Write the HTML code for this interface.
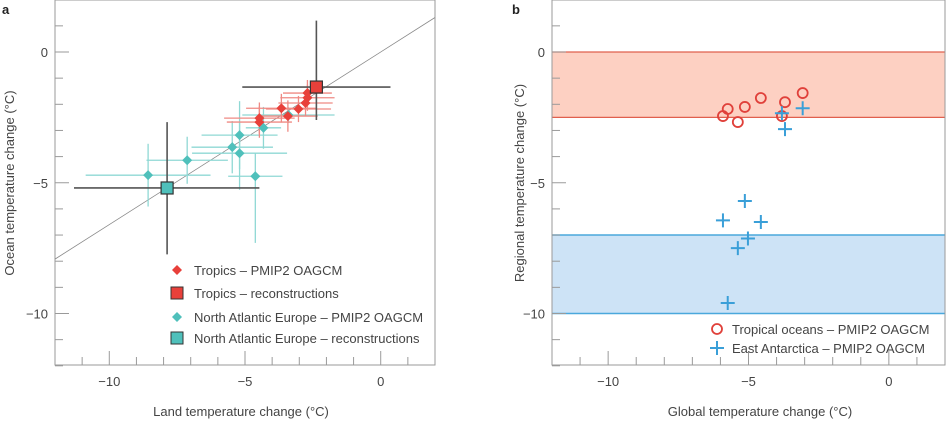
<!DOCTYPE html>
<html><head><meta charset="utf-8"><style>
html,body{margin:0;padding:0;background:#fff;}
svg{display:block;font-family:"Liberation Sans",sans-serif;}
</style></head><body>
<svg id="s" width="946" height="422" viewBox="0 0 946 422">
</svg>
<script>
// Panel a data
const tropX=[-4.47,-4.47,-3.66,-3.03,-2.77,-2.7,-2.7,-3.42];
const tropY=[-2.53,-2.68,-2.15,-2.18,-1.95,-1.75,-1.57,-2.45];
const tropXErr=[1.3,1.2,1.3,1.2,1.0,1.0,0.9,1.1];
const tropYErr=[0.6,0.6,0.55,0.5,0.5,0.5,0.5,0.6];
const naeX=[-3.4,-4.32,-5.2,-5.47,-5.2,-4.62,-7.13,-8.57];
const naeY=[-2.41,-2.9,-3.18,-3.64,-3.87,-4.75,-4.14,-4.71];
const naeXErr=[1.7,0.65,1.4,1.5,1.75,1.0,1.5,2.3];
const naeYUp=[0.3,0.8,1.3,1.0,1.2,0.9,0.9,1.2];
const naeYDn=[0.3,0.8,1.3,1.0,1.4,2.55,0.9,1.2];
const recTrop={x:-2.37,y:-1.34,xlo:-5.1,xhi:0.36,ylo:-2.6,yhi:1.2};
const recNae={x:-7.87,y:-5.2,xlo:-11.3,xhi:-4.47,ylo:-7.74,yhi:-2.68};
const slope=0.66;
// Panel b data
const circX=[-5.91,-5.74,-5.38,-5.13,-4.56,-3.7,-3.81,-3.07];
const circY=[-2.45,-2.18,-2.68,-2.1,-1.76,-1.92,-2.45,-1.57];
const crossX=[-3.81,-3.07,-3.7,-5.91,-5.13,-4.56,-5.02,-5.38,-5.74];
const crossY=[-2.34,-2.15,-2.95,-6.44,-5.7,-6.5,-7.13,-7.5,-9.6];
const redBand=[0,-2.5];
const blueBand=[-7,-10];
const xTicks=[-10,-5,0];
const yTicks=[0,-5,-10];

const S=document.getElementById('s');
const NS='http://www.w3.org/2000/svg';
function mk(t,a,parent){const e=document.createElementNS(NS,t);for(const k in a)e.setAttribute(k,a[k]);(parent||S).appendChild(e);return e;}

function panel(L,R,name){
  const ax={xs:v=>L+(v+12)/14*(R-L),ys:v=>52-v*26.15};
  const g=mk('g',{});
  
  
  ax.g=g;return ax;
}
function frame(ax,L,R,name){
  const g=mk('g',{},ax.g);
  
  
  mk('rect',{x:L,y:0,width:R-L,height:365,fill:'none',stroke:'#9a9a9a','stroke-width':1},g);
  for(let v=-12;v<=2;v++){const x=ax.xs(v);const len=v%5===0?14:8;
    mk('line',{x1:x,y1:365,x2:x,y2:365-len,stroke:'#9a9a9a'},g);}
  for(let v=-12;v<=2;v++){const y=ax.ys(v);const len=v%5===0?14:8;
    mk('line',{x1:L,y1:y,x2:L+len,y2:y,stroke:'#9a9a9a'},g);}
  xTicks.forEach(v=>{const t=mk('text',{x:ax.xs(v),y:386,'text-anchor':'middle','font-size':13,fill:'#444'},g);t.textContent=v===0?'0':'\u2212'+Math.abs(v);
    });
  yTicks.forEach(v=>{const t=mk('text',{x:L-7,y:ax.ys(v)+5,'text-anchor':'end','font-size':13,fill:'#444'},g);t.textContent=v===0?'0':'\u2212'+Math.abs(v);
    });
}

// ---------- Panel a ----------
const A=panel(55,435,'panel-a');
frame(A,55,435,'panel-a');
mk('line',{x1:A.xs(-12),y1:A.ys(-12*slope),x2:A.xs(2),y2:A.ys(2*slope),stroke:'#888','stroke-width':0.8},A.g);
naeX.forEach((x,i)=>{
  const c='#8fd8d4';
  mk('line',{x1:A.xs(x-naeXErr[i]),y1:A.ys(naeY[i]),x2:A.xs(x+naeXErr[i]),y2:A.ys(naeY[i]),stroke:c,'stroke-width':1.3},A.g);
  mk('line',{x1:A.xs(x),y1:A.ys(naeY[i]+naeYUp[i]),x2:A.xs(x),y2:A.ys(naeY[i]-naeYDn[i]),stroke:c,'stroke-width':1.3},A.g);
});
tropX.forEach((x,i)=>{
  const c='#ef8a84';
  mk('line',{x1:A.xs(x-tropXErr[i]),y1:A.ys(tropY[i]),x2:A.xs(x+tropXErr[i]),y2:A.ys(tropY[i]),stroke:c,'stroke-width':1.3},A.g);
  mk('line',{x1:A.xs(x),y1:A.ys(tropY[i]+tropYErr[i]),x2:A.xs(x),y2:A.ys(tropY[i]-tropYErr[i]),stroke:c,'stroke-width':1.3},A.g);
});
function diamond(x,y,c,g){const d=mk('path',{d:`M${x},${y-5}L${x+5},${y}L${x},${y+5}L${x-5},${y}Z`,fill:c},g);return d;}
naeX.forEach((x,i)=>{const d=diamond(A.xs(x),A.ys(naeY[i]),'#4fc0bb',A.g);
  });
tropX.forEach((x,i)=>{const d=diamond(A.xs(x),A.ys(tropY[i]),'#e8403a',A.g);
  });
[[recNae,'#4fc0bb','nae-reconstruction'],[recTrop,'#e8403a','tropics-reconstruction']].forEach(([r,c,n])=>{
  mk('line',{x1:A.xs(r.xlo),y1:A.ys(r.y),x2:A.xs(r.xhi),y2:A.ys(r.y),stroke:'#555','stroke-width':1.6},A.g);
  mk('line',{x1:A.xs(r.x),y1:A.ys(r.yhi),x2:A.xs(r.x),y2:A.ys(r.ylo),stroke:'#555','stroke-width':1.6},A.g);
  const q=mk('rect',{x:A.xs(r.x)-6,y:A.ys(r.y)-6,width:12,height:12,fill:c,stroke:'#333','stroke-width':1.2},A.g);
  
});
// legend a
const legA=mk('g',{});

[['d','#e8403a','Tropics \u2013 PMIP2 OAGCM',270],['s','#e8403a','Tropics \u2013 reconstructions',293],['d','#4fc0bb','North Atlantic Europe \u2013 PMIP2 OAGCM',317],['s','#4fc0bb','North Atlantic Europe \u2013 reconstructions',338]].forEach(([m,c,t,y])=>{
  const it=mk('g',{},legA);
  
  if(m==='d')diamond(177,y,c,it);else mk('rect',{x:171,y:y-6,width:12,height:12,fill:c,stroke:'#333','stroke-width':1},it);
  const tx=mk('text',{x:194,y:y+5,'font-size':13,fill:'#444'},it);tx.textContent=t;
});

// ---------- Panel b ----------
const B=panel(552,945,'panel-b');
const rb=mk('rect',{x:552,y:B.ys(redBand[0]),width:393,height:B.ys(redBand[1])-B.ys(redBand[0]),fill:'#fdd0c2'},B.g);

const bb=mk('rect',{x:552,y:B.ys(blueBand[0]),width:393,height:B.ys(blueBand[1])-B.ys(blueBand[0]),fill:'#cde3f6'},B.g);

redBand.forEach(v=>mk('line',{x1:552,y1:B.ys(v),x2:945,y2:B.ys(v),stroke:'#e0604e','stroke-width':1.2},B.g));
blueBand.forEach(v=>mk('line',{x1:552,y1:B.ys(v),x2:945,y2:B.ys(v),stroke:'#4aa8dc','stroke-width':1.5},B.g));
frame(B,552,945,'panel-b');
function cross(x,y,g){const p=mk('path',{d:`M${x-7},${y}H${x+7}M${x},${y-7}V${y+7}`,stroke:'#3a9fd8','stroke-width':2,fill:'none'},g);return p;}
circX.forEach((x,i)=>{const c=mk('circle',{cx:B.xs(x),cy:B.ys(circY[i]),r:5,fill:'none',stroke:'#e0403a','stroke-width':1.8},B.g);
  });
crossX.forEach((x,i)=>{const c=cross(B.xs(x),B.ys(crossY[i]),B.g);
  });
const legB=mk('g',{});

const e1=mk('g',{},legB);
mk('circle',{cx:717,cy:329,r:5,fill:'none',stroke:'#e0403a','stroke-width':1.8},e1);
mk('text',{x:732,y:334,'font-size':13,fill:'#444'},e1).textContent='Tropical oceans \u2013 PMIP2 OAGCM';
const e2=mk('g',{},legB);
cross(717,348,e2);
mk('text',{x:732,y:353,'font-size':13,fill:'#444'},e2).textContent='East Antarctica \u2013 PMIP2 OAGCM';

// titles
function txt(x,y,s,a,name){const t=mk('text',Object.assign({x:x,y:y,fill:'#444','font-size':13},a));t.textContent=s;
  return t;}
txt(2,14,'a',{'font-weight':'bold','font-size':13,fill:'#222'},'panel-a-label');
txt(512,14,'b',{'font-weight':'bold','font-size':13,fill:'#222'},'panel-b-label');
txt(241,416,'Land temperature change (\u00b0C)',{'text-anchor':'middle'},'x-axis-title-a');
txt(760,416,'Global temperature change (\u00b0C)',{'text-anchor':'middle'},'x-axis-title-b');
txt(14,183,'Ocean temperature change (\u00b0C)',{'text-anchor':'middle',transform:'rotate(-90 14 183)'},'y-axis-title-a');
txt(524,183,'Regional temperature change (\u00b0C)',{'text-anchor':'middle',transform:'rotate(-90 524 183)'},'y-axis-title-b');
</script>
</body></html>
